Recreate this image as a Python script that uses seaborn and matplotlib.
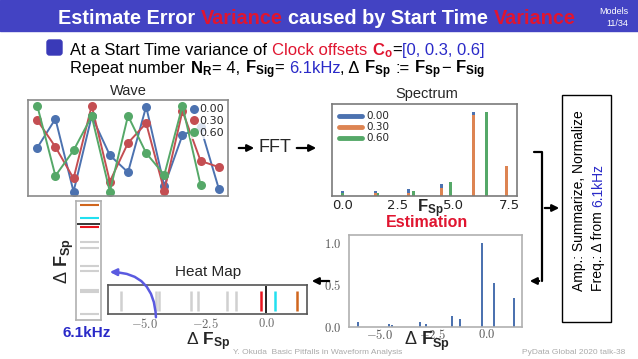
import numpy as np
import pandas as pd
import matplotlib.pyplot as plt
import seaborn as sns
from matplotlib.lines import Line2D
from matplotlib.patches import Rectangle, FancyBboxPatch, FancyArrowPatch

W, H = 638, 359

# ---- data
offsets = ["0.00", "0.30", "0.60"]
wave_00 = [0.02, 0.68, -0.98, 0.74, -0.15, -0.54, 0.96, -0.85, 0.31, 0.49, -0.91]
wave_30 = [0.65, 0.04, -0.68, 0.98, -0.75, 0.13, 0.58, -0.96, 0.86, -0.28, -0.42]
wave_60 = [0.98, -0.62, -0.04, 0.74, -0.98, 0.75, -0.10, -0.60, 0.98, -0.83]

spec_f_00 = [0.0, 1.47, 2.95, 4.45, 5.9]
spec_a_00 = [0.06, 0.063, 0.078, 0.14, 0.99]
spec_f_30 = [0.0, 1.47, 2.95, 4.45, 5.9, 7.35]
spec_a_30 = [0.03, 0.03, 0.031, 0.098, 0.95, 0.35]
spec_f_60 = [0.0, 1.6, 3.2, 4.85, 6.46]
spec_a_60 = [0.03, 0.031, 0.055, 0.164, 0.99]

est_df = [-6.0, -4.55, -4.42, -3.1, -2.82, -1.63, -1.24, -0.23, 0.35, 1.25]
est_amp = [0.055, 0.04, 0.02, 0.065, 0.03, 0.135, 0.09, 1.0, 0.52, 0.34]

sns.set_style("white")
plt.rcParams["font.family"] = ["Liberation Sans", "DejaVu Sans"]
plt.rcParams["mathtext.fontset"] = "custom"
plt.rcParams["mathtext.rm"] = "Liberation Sans"
plt.rcParams["mathtext.bf"] = "Liberation Sans:bold"
plt.rcParams["mathtext.it"] = "Liberation Sans:italic"

deep = sns.color_palette("deep")
wave_pal = [deep[0], deep[3], deep[2]]
spec_pal = [deep[0], deep[1], deep[2]]
RED = "#e01530"
BLUE = "#2a2ac8"
BAR = "#4343c3"

fig = plt.figure(figsize=(W / 100, H / 100), dpi=100)
renderer = fig.canvas.get_renderer()


def box(x0, y0, x1, y1):
    return fig.add_axes([x0 / W, 1 - y1 / H, (x1 - x0) / W, (y1 - y0) / H])


def ftext(x, y, s, **kw):
    return fig.text(x / W, 1 - y / H, s, **kw)


def width_of(s, **kw):
    t = fig.text(0, 0, s, **kw)
    w = t.get_window_extent(renderer).width
    t.remove()
    return w


def rich(x, y, parts, vertical=False, **kw):
    # coloured pieces laid one after another on a common baseline
    sp = width_of("a a", **kw) - width_of("aa", **kw)
    pos = y if vertical else x
    for s, c in parts:
        core = s.strip(" ")
        lead = len(s) - len(s.lstrip(" "))
        trail = len(s) - len(s.rstrip(" "))
        if vertical:
            pos -= lead * sp
            t = ftext(x, pos, core, color=c, rotation=90, rotation_mode="anchor",
                      ha="left", va="baseline", **kw)
            pos -= t.get_window_extent(renderer).height + trail * sp
        else:
            pos += lead * sp
            t = ftext(pos, y, core, color=c, ha="left", va="baseline", **kw)
            pos += t.get_window_extent(renderer).width + trail * sp


def arrow(x0, y0, x1, y1, color="black", lw=1.6, **kw):
    fig.patches.append(FancyArrowPatch((x0, H - y0), (x1, H - y1), transform=None,
                                       arrowstyle="-|>", mutation_scale=10,
                                       color=color, lw=lw, **kw))


def frame(ax, color):
    for s in ax.spines.values():
        s.set_color(color)
        s.set_linewidth(1.2)


# ---- slide header
fig.patches.append(Rectangle((0, 1 - 31 / H), 1, 31 / H, transform=fig.transFigure,
                             color=BAR, zorder=0))
rich(58, 24, [("Estimate Error ", "white"), ("Variance", RED),
              (" caused by Start Time ", "white"), ("Variance", RED)],
     size=14.3, weight="bold")
ftext(628, 12, "Models", ha="right", va="center", color="white", size=6.5)
ftext(628, 24, "11/34", ha="right", va="center", color="white", size=6.5)

fig.patches.append(FancyBboxPatch((47, H - 55), 15, 15, boxstyle="round,pad=0,rounding_size=2.5",
                                  transform=None, color="#3a3ab8"))
rich(70, 55, [("At a Start Time variance of ", "black"), ("Clock offsets ", RED),
              (r"$\mathbf{C_o}$", RED), ("=", "black"), ("[0, 0.3, 0.6]", BLUE)], size=12)
rich(70, 73, [("Repeat number ", "black"), (r"$\mathbf{N_R}$", "black"), ("= 4, ", "black"),
              (r"$\mathbf{F_{Sig}}$", "black"), ("= ", "black"), ("6.1kHz", BLUE),
              (", \u0394 ", "black"), (r"$\mathbf{F_{Sp}}$", "black"), (" := ", "black"),
              (r"$\mathbf{F_{Sp}}$", "black"), ("\u2212 ", "black"), (r"$\mathbf{F_{Sig}}$", "black")],
     size=12)

# ---- wave
ax = box(28, 100, 228, 196)
wave_df = pd.concat([pd.DataFrame({"n": np.arange(len(v)), "amp": v, "offset": o})
                     for o, v in zip(offsets, [wave_00, wave_30, wave_60])])
sns.lineplot(data=wave_df, x="n", y="amp", hue="offset", palette=wave_pal, marker="o",
             markersize=6.5, markeredgewidth=0, linewidth=1.4, ax=ax, legend=False)
ax.set(xlim=(-0.51, 10.51), ylim=(-1.08, 1.11), xticks=[], yticks=[], xlabel="", ylabel="")
frame(ax, "#8a8a8a")
hs = [Line2D([], [], ls="", marker="o", ms=6.5, mew=0, color=c) for c in wave_pal]
leg = ax.legend(hs, offsets, loc="upper right", prop={"family": "DejaVu Sans", "size": 8},
                handlelength=0.6, handletextpad=0.1, borderpad=0.1, labelspacing=0.15,
                borderaxespad=0.3, framealpha=0.8)
leg.get_frame().set_edgecolor("none")
ftext(128, 91, "Wave", ha="center", va="center", size=10.5)

# ---- FFT arrows
arrow(236, 148, 257, 148)
ftext(275, 148, "FFT", ha="center", va="center", size=13)
arrow(294, 148, 319, 148)

# ---- spectrum
ax = box(332, 104, 517, 196)
for f, a, c in zip([spec_f_00, spec_f_30, spec_f_60], [spec_a_00, spec_a_30, spec_a_60], spec_pal):
    ax.bar(f, a, width=0.13, color=c, linewidth=0)
ax.set(xlim=(-0.46, 7.83), ylim=(0, 1.08), yticks=[], xticks=[0, 2.5, 5, 7.5])
ax.set_xticklabels(["0.0", "2.5", "5.0", "7.5"], family="DejaVu Sans", size=9.5, color="#222")
ax.tick_params(axis="x", pad=-1)
frame(ax, "#7a7a7a")
hs = [Line2D([], [], lw=3.5, color=c) for c in spec_pal]
ax.legend(hs, offsets, loc="upper left", prop={"family": "DejaVu Sans", "size": 7.5},
          handlelength=2.2, handletextpad=0.4, labelspacing=0.1, borderaxespad=0.3, frameon=False)
ftext(427, 94, "Spectrum", ha="center", va="center", size=10.5)
ftext(430, 209, r"$\mathbf{F_{Sp}}$", ha="center", va="center", size=12)
ftext(427, 223, "Estimation", ha="center", va="center", size=11.5, weight="bold", color=RED)

# ---- bracket to the text box
fig.lines.append(Line2D([534, 542, 542], [H - 152, H - 152, H - 281], transform=None,
                        color="black", lw=1.6))
arrow(542, 208, 562, 208)
arrow(542, 281, 527, 281)
fig.patches.append(Rectangle((562, H - 322), 49, 227, transform=None, fill=False,
                             edgecolor="black", lw=1))
rich(583, 291, [("Amp.: Summarize, Normalize", "black")], vertical=True, size=10)
rich(602, 291, [("Freq.: \u0394 from ", "black"), ("6.1kHz", BLUE)], vertical=True, size=10)

# ---- estimation
ax = box(349, 235, 522, 327)
ax.bar(est_df, est_amp, width=0.1, color=deep[0], linewidth=0)
ax.set(xlim=(-6.4, 1.64), ylim=(0, 1.09), xticks=[-5, -2.5, 0], yticks=[0, 0.5, 1.0])
ax.set_xticklabels([r"$-5.0$", r"$-2.5$", r"$0.0$"], math_fontfamily="cm", size=9, color="#555")
ax.set_yticklabels([r"$0.0$", r"$0.5$", r"$1.0$"], math_fontfamily="cm", size=9, color="#555")
ax.tick_params(axis="x", pad=-3)
ax.tick_params(axis="y", pad=2)
frame(ax, "#b0b0b0")
ftext(427, 341, "\u0394 " + r"$\mathbf{F_{Sp}}$", ha="center", va="center", size=13)

# ---- heat map and the strip, top amplitudes coloured
order = np.argsort(est_amp)[::-1]
line_col = ["#d0d0d0"] * len(est_df)
for i, c in zip(order[:3], ["#e8141e", "#22e0f0", "#d0661e"]):
    line_col[i] = c

arrow(332, 281, 309, 281)
ax = box(108, 285, 307, 314)
ax.vlines(est_df, 0.12, 0.8, colors=line_col, lw=1.8)
ax.vlines(0, 0.02, 0.97, colors="black", lw=1.2)
ax.set(xlim=(-6.52, 1.67), ylim=(0, 1), yticks=[], xticks=[-5, -2.5, 0])
ax.set_xticklabels([r"$-5.0$", r"$-2.5$", r"$0.0$"], math_fontfamily="cm", size=9, color="#666")
ax.tick_params(pad=-1)
frame(ax, "#555555")
ftext(208, 272, "Heat Map", ha="center", va="center", size=11)
ftext(208, 342, "\u0394 " + r"$\mathbf{F_{Sp}}$", ha="center", va="center", size=12.5)

ax = box(76, 201, 101, 320)
ax.hlines(est_df, 0.17, 0.9, colors=line_col, lw=1.5)
ax.hlines(0, 0.04, 0.97, colors="black", lw=1.1)
ax.set(xlim=(0, 1), ylim=(-6.38, 1.51), xticks=[], yticks=[])
frame(ax, "#b0b0b0")
ftext(64, 261, "\u0394 " + r"$\mathbf{F_{Sp}}$", rotation=90, ha="center", va="center", size=13)
ftext(87, 333, "6.1kHz", ha="center", va="center", size=11, weight="bold", color=BLUE)

fig.patches.append(FancyArrowPatch((156, H - 320), (107, H - 272), transform=None,
                                   connectionstyle="arc3,rad=0.5", arrowstyle="-|>",
                                   mutation_scale=10, color="#5a5ae0", lw=1.8))

# ---- footer
ftext(233, 353, "Y. Okuda  Basic Pitfalls in Waveform Analysis", va="center", size=6, color="#aaaaaa")
ftext(625, 353, "PyData Global 2020 talk-38", ha="right", va="center", size=6, color="#aaaaaa")

fig.savefig("out.png", dpi=100)
